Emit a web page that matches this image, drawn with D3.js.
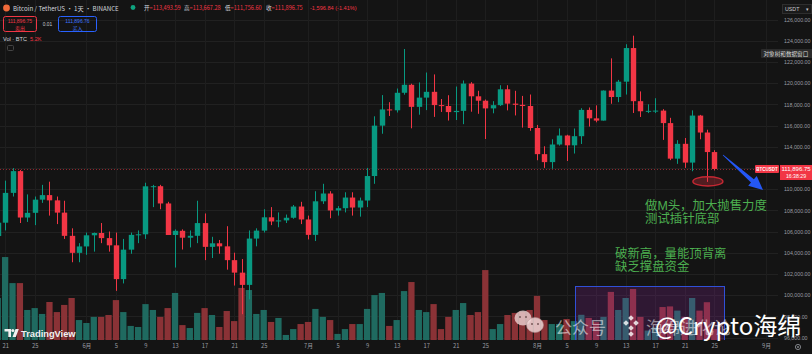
<!DOCTYPE html>
<html><head><meta charset="utf-8">
<script src="https://cdn.jsdelivr.net/npm/d3@7"></script>
<style>
html,body{margin:0;padding:0;background:#141414;overflow:hidden;}
svg{display:block;}
text{font-family:"Liberation Sans","Noto Sans","Noto Sans CJK SC",sans-serif;}
.cjk{font-family:"Noto Sans CJK SC","Noto Sans",sans-serif;}
</style></head><body>
<svg id="c" width="812" height="354"></svg>
<script>
const dates = ["2025-05-20","2025-05-21","2025-05-22","2025-05-23","2025-05-24","2025-05-25","2025-05-26","2025-05-27","2025-05-28","2025-05-29","2025-05-30","2025-05-31",
"2025-06-01","2025-06-02","2025-06-03","2025-06-04","2025-06-05","2025-06-06","2025-06-07","2025-06-08","2025-06-09","2025-06-10","2025-06-11","2025-06-12","2025-06-13","2025-06-14","2025-06-15","2025-06-16","2025-06-17","2025-06-18","2025-06-19","2025-06-20","2025-06-21","2025-06-22","2025-06-23","2025-06-24","2025-06-25","2025-06-26","2025-06-27","2025-06-28","2025-06-29","2025-06-30",
"2025-07-01","2025-07-02","2025-07-03","2025-07-04","2025-07-05","2025-07-06","2025-07-07","2025-07-08","2025-07-09","2025-07-10","2025-07-11","2025-07-12","2025-07-13","2025-07-14","2025-07-15","2025-07-16","2025-07-17","2025-07-18","2025-07-19","2025-07-20","2025-07-21","2025-07-22","2025-07-23","2025-07-24","2025-07-25","2025-07-26","2025-07-27","2025-07-28","2025-07-29","2025-07-30","2025-07-31",
"2025-08-01","2025-08-02","2025-08-03","2025-08-04","2025-08-05","2025-08-06","2025-08-07","2025-08-08","2025-08-09","2025-08-10","2025-08-11","2025-08-12","2025-08-13","2025-08-14","2025-08-15","2025-08-16","2025-08-17","2025-08-18","2025-08-19","2025-08-20","2025-08-21","2025-08-22","2025-08-23","2025-08-24","2025-08-25"];
const open = [105573,106830,109643,111696,107318,107761,109004,109434,108938,107781,105589,103985,
104591,105642,105858,105376,104696,101508,104288,105681,105734,110263,110274,108645,105671,106066,105414,105594,106794,104551,104886,104600,103298,102120,100963,105333,106083,107340,106947,107047,107296,108356,
107135,105681,108849,109584,107984,108198,109204,108262,108922,111233,115987,117516,117435,119087,119841,117758,118630,119177,117924,117840,117265,117380,119954,118756,118340,117614,117919,119416,118062,117950,117840,
115764,113297,112546,114208,115055,114129,114992,117472,116675,116463,119295,118687,120134,123306,118295,117342,117380,117405,116227,112872,114271,112500,116937,115338,113494];
const high = [107320,110797,111980,111800,109500,109300,110400,110700,109300,108900,106300,104900,
105900,105900,106800,106000,105900,105300,105900,106100,110600,110400,110400,108800,106200,106200,106100,108900,107700,105500,105200,106500,104000,103400,106100,106300,108100,108300,107800,107600,108500,108800,
107500,109800,110500,109800,108400,109700,109700,109200,111999,116868,118869,118200,119488,123218,119940,120063,120998,120820,118499,118856,119676,120247,120090,119273,118451,118297,119800,119800,119273,118792,118922,
116052,114040,114700,115720,115127,115716,117630,117700,117900,119311,122335,120300,123668,124474,119216,117999,118575,117543,116725,114616,114821,117429,117000,115600,113667];
const low = [104200,106100,109300,106800,106900,106600,108700,107500,106700,105300,103100,103100,
103800,104100,104900,104100,100400,101100,103900,104900,105300,108300,108100,105700,102600,104300,104500,104900,103300,103500,103900,102400,100900,98200,99600,104600,105900,106600,106400,106800,107200,106700,
105250,105100,108600,107250,107500,107800,107500,107400,108300,110500,115222,116900,117224,118905,115736,117017,117453,116812,117277,116467,116516,116128,117301,117103,114723,117151,117841,117427,116950,115800,115500,
112722,112000,111920,114100,112650,113355,114259,115900,116300,116460,118050,118200,118920,117180,116803,117172,117172,114640,112733,112380,112000,111684,114700,110680,111757];
const close = [106830,109643,111696,107318,107761,109004,109434,108938,107781,105589,103985,104591,
105642,105858,105376,104696,101508,104288,105681,105734,110263,110274,108645,105671,106066,105414,105594,106794,104551,104886,104600,103298,102120,100963,105333,106083,107340,106947,107047,107296,108356,107135,
105681,108849,109584,107984,108198,109204,108262,108922,111233,115987,117516,117435,119087,119841,117758,118630,119177,117924,117840,117265,117380,119954,118756,118340,117614,117919,119416,118062,117950,117840,115764,
113297,112546,114208,115055,114129,114992,117472,116675,116463,119295,118687,120134,123306,118295,117342,117380,117405,116227,112872,114271,112500,116937,115338,113494,111897];
const volume = [20.0,39.5,27.1,27.1,14.3,15.2,12.4,18.1,13.3,16.7,20.0,9.5,
8.1,11.0,11.0,11.9,19.0,13.3,6.7,6.2,17.1,14.3,11.0,15.2,22.4,7.1,5.7,12.9,15.2,11.9,6.2,13.8,9.0,24.8,23.8,12.4,14.3,8.6,10.5,2.4,5.2,7.6,
8.6,14.8,11.0,9.5,2.9,5.2,7.6,7.6,14.8,21.4,22.4,6.7,9.5,23.3,27.6,14.3,13.3,17.1,5.2,11.0,14.3,17.6,11.9,13.3,33.3,5.2,7.6,11.9,12.9,13.3,14.3,
21.0,9.5,7.6,7.6,10.0,9.0,12.0,10.5,8.5,11.0,22.9,14.3,20.0,24.3,11.0,4.5,6.0,15.7,16.0,14.0,11.0,20.0,14.0,18.0,5.2];
const priceTicks = [96000,98000,100000,102000,104000,106000,108000,110000,112000,114000,116000,118000,120000,122000,124000,126000];
const tickDates = ["2025-05-21","2025-05-25","2025-06-01","2025-06-05","2025-06-09","2025-06-13","2025-06-17","2025-06-21","2025-06-25","2025-07-01","2025-07-05","2025-07-09","2025-07-13","2025-07-17","2025-07-21","2025-07-25","2025-08-01","2025-08-05","2025-08-09","2025-08-13","2025-08-17","2025-08-21","2025-08-25","2025-09-01"];
const tickLabels = ["21","25","6月","5","9","13","17","21","25","7月","5","9","13","17","21","25","8月","5","9","13","17","21","25","9月"];
const lastPrice = 111896.75;

const UP="#089981", DN="#f23645", VUP="#1f6a60", VDN="#8a3236";
const svg=d3.select("#c");
const W=812,H=354,plotR=778,volBase=340;
svg.append("rect").attr("width",W).attr("height",H).attr("fill","#141414");

const parse=d3.utcParse("%Y-%m-%d");
const x=d3.scaleUtc().domain([parse("2025-08-01"),parse("2025-09-01")]).range([537,766]);
const y=d3.scaleLinear().domain([96000,126000]).range([337.5,19.5]);
const yv=d3.scaleLinear().domain([0,40]).range([volBase,256]);
const data=dates.map((d,i)=>({date:parse(d),o:open[i],h:high[i],l:low[i],c:close[i],v:volume[i]}));
const step=x(parse("2025-08-02"))-x(parse("2025-08-01"));

svg.append("clipPath").attr("id","plot").append("rect").attr("x",0).attr("y",0).attr("width",plotR).attr("height",volBase);

// grid
const grid=svg.append("g").attr("clip-path","url(#plot)");
grid.selectAll("line.h").data(priceTicks).join("line")
  .attr("x1",0).attr("x2",plotR).attr("y1",d=>Math.round(y(d))+0.5).attr("y2",d=>Math.round(y(d))+0.5)
  .attr("stroke","#212121").attr("stroke-width",1);
grid.selectAll("line.v").data(tickDates).join("line")
  .attr("y1",0).attr("y2",volBase).attr("x1",d=>Math.round(x(parse(d)))+0.5).attr("x2",d=>Math.round(x(parse(d)))+0.5)
  .attr("stroke","#1e1e1e").attr("stroke-width",1);

// volume
const plot=svg.append("g").attr("clip-path","url(#plot)");
const bw=step-1.1;
plot.append("g").selectAll("rect").data(data).join("rect")
  .attr("x",d=>x(d.date)-bw/2).attr("width",bw)
  .attr("y",d=>yv(d.v)).attr("height",d=>volBase-yv(d.v))
  .attr("fill",d=>d.c>=d.o?VUP:VDN);

// drawing rectangle (purple box)
plot.append("rect").attr("x",575.5).attr("y",286.5).attr("width",149).attr("height",56)
  .attr("fill","rgba(156,39,176,0.2)").attr("stroke","#3050d8").attr("stroke-width",1);

// last price line
plot.append("line").attr("x1",0).attr("x2",plotR).attr("y1",Math.round(y(lastPrice))+0.5).attr("y2",Math.round(y(lastPrice))+0.5)
  .attr("stroke",DN).attr("stroke-opacity",0.55).attr("stroke-dasharray","1,2");

// candles
const cw=5.4;
const cg=plot.append("g").selectAll("g").data(data).join("g");
cg.append("line").attr("x1",d=>Math.round(x(d.date))+0.5).attr("x2",d=>Math.round(x(d.date))+0.5)
  .attr("y1",d=>y(d.h)).attr("y2",d=>y(d.l)).attr("stroke",d=>d.c>=d.o?UP:DN).attr("stroke-width",1);
cg.append("rect").attr("x",d=>Math.round(x(d.date))+0.5-cw/2).attr("width",cw)
  .attr("y",d=>y(Math.max(d.o,d.c))).attr("height",d=>Math.max(1,Math.abs(y(d.o)-y(d.c))))
  .attr("fill",d=>d.c>=d.o?UP:DN);

// ellipse annotation around Aug 24 wick
const eD=data[data.length-2];
plot.append("ellipse").attr("cx",x(eD.date)+1).attr("cy",y(eD.l)-0.5).attr("rx",15).attr("ry",4.6)
  .attr("fill","rgba(242,54,69,0.28)").attr("stroke","#c62833").attr("stroke-width",1.4);

// blue arrow
(function(){
  const sx=723,sy=155,tx=763,ty=190;
  const dx=tx-sx,dy=ty-sy,L=Math.hypot(dx,dy),ux=dx/L,uy=dy/L,nx=-uy,ny=ux;
  const hl=14,hw=6.5,bx=tx-hl*ux,by=ty-hl*uy;
  const pts=[[sx+nx*0.4,sy+ny*0.4],[bx+nx*2.2,by+ny*2.2],[bx+nx*hw,by+ny*hw],[tx,ty],[bx-nx*hw,by-ny*hw],[bx-nx*2.2,by-ny*2.2],[sx-nx*0.4,sy-ny*0.4]];
  svg.append("polygon").attr("points",pts.map(p=>p.join(",")).join(" ")).attr("fill","#2457f5");
})();

// annotations
const ann=svg.append("g").attr("class","cjk").attr("fill","#4caf50").attr("font-size",12.4);
ann.append("text").attr("x",645).attr("y",210).text("做M头，加大抛售力度");
ann.append("text").attr("x",645).attr("y",222.5).text("测试插针底部");
ann.append("text").attr("x",615).attr("y",258).text("破新高，量能顶背离");
ann.append("text").attr("x",615).attr("y",270.5).text("缺乏撑盘资金");

// right price axis (labels hidden under the last-price box are not shown, as in the reference)
const ya=d3.axisRight(y).tickValues(priceTicks).tickFormat(d3.format(",.2f")).tickSize(0).tickPadding(6);
const yg=svg.append("g").attr("transform",`translate(${plotR},0)`).call(ya);
yg.select(".domain").remove();
yg.selectAll("text").attr("fill","#9a9ca3").attr("font-size",5.3).attr("x",6);
yg.selectAll(".tick").filter(d=>Math.abs(y(d)-y(lastPrice))<10).remove();

// bottom date axis
const xa=d3.axisBottom(x).tickValues(tickDates.map(parse)).tickFormat((d,i)=>tickLabels[i]).tickSize(0).tickPadding(4);
const xg=svg.append("g").attr("transform",`translate(0,${volBase})`).call(xa);
xg.select(".domain").remove();
xg.selectAll("text").attr("fill","#9a9ca3").attr("font-size",5.8).attr("class","cjk");
// gear icon
svg.append("circle").attr("cx",798).attr("cy",347).attr("r",2.6).attr("fill","none").attr("stroke","#8a8d93").attr("stroke-width",0.9);
svg.append("circle").attr("cx",798).attr("cy",347).attr("r",0.9).attr("fill","#8a8d93");

// price labels
const ly=Math.round(y(lastPrice));
svg.append("rect").attr("x",755).attr("y",ly-4).attr("width",24).attr("height",8).attr("fill",DN).attr("rx",1);
svg.append("text").attr("x",767).attr("y",ly+1.8).attr("text-anchor","middle").attr("font-size",4.5).attr("font-weight","bold").attr("fill","#fff").text("BTCUSDT");
svg.append("rect").attr("x",780).attr("y",ly-4).attr("width",32).attr("height",15).attr("fill",DN);
svg.append("text").attr("x",796).attr("y",ly+2.2).attr("text-anchor","middle").attr("font-size",6).attr("fill","#fff").text(d3.format(",.2f")(lastPrice));
svg.append("text").attr("x",796).attr("y",ly+9.3).attr("text-anchor","middle").attr("font-size",5.2).attr("fill","#fff").text("16:38:29");

// USDT box
svg.append("rect").attr("x",782.5).attr("y",4.5).attr("width",29).attr("height",9).attr("fill","#1a1a1a").attr("stroke","#2e2e2e");
svg.append("text").attr("x",785).attr("y",11).attr("font-size",5.3).attr("fill","#c9cbd0").text("USDT");
svg.append("text").attr("x",806).attr("y",11).attr("font-size",5).attr("fill","#c9cbd0").text("▾");
// tooltip
svg.append("rect").attr("x",761).attr("y",49).attr("width",52).attr("height",9).attr("fill","#2b2b2b").attr("rx",1);
svg.append("text").attr("class","cjk").attr("x",763.5).attr("y",56).attr("font-size",5.6).attr("fill","#d8d8d8").text("对象树和数据窗口");

// header
svg.append("circle").attr("cx",6.5).attr("cy",8).attr("r",3.4).attr("fill","#f06a3a");
svg.append("text").attr("class","cjk").attr("x",13).attr("y",10.5).attr("font-size",6.2).attr("fill","#d1d4dc").text("Bitcoin / TetherUS · 1天 · BINANCE");
svg.append("circle").attr("cx",133).attr("cy",7.5).attr("r",2.4).attr("fill","#0fa37f");
const ohlcLab=["开","高","低","收"], ohlcVal=["=113,493.59","=113,667.28","=111,756.60","=111,896.75"], ohlcX=[144,184,225,266];
ohlcLab.forEach((l,i)=>{
  const t=svg.append("text").attr("class","cjk").attr("x",ohlcX[i]).attr("y",10).attr("font-size",5.6);
  t.append("tspan").attr("fill","#d1d4dc").text(l);
  t.append("tspan").attr("fill",DN).text(ohlcVal[i]);
});
svg.append("text").attr("x",310).attr("y",10).attr("font-size",5.6).attr("fill",DN).text("-1,596.84 (-1.41%)");
// buy/sell
svg.append("rect").attr("x",3.5).attr("y",16.5).attr("width",33).attr("height",15).attr("rx",2).attr("fill","none").attr("stroke",DN);
svg.append("text").attr("x",20).attr("y",22.8).attr("text-anchor","middle").attr("font-size",5).attr("fill",DN).text("111,896.75");
svg.append("text").attr("class","cjk").attr("x",20).attr("y",29.5).attr("text-anchor","middle").attr("font-size",5).attr("fill",DN).text("卖出");
svg.append("text").attr("x",47.5).attr("y",25.5).attr("text-anchor","middle").attr("font-size",4.8).attr("fill","#c9cbd0").text("0.01");
svg.append("rect").attr("x",58.5).attr("y",16.5).attr("width",38).attr("height",15).attr("rx",2).attr("fill","none").attr("stroke","#2962ff");
svg.append("text").attr("x",77.5).attr("y",22.8).attr("text-anchor","middle").attr("font-size",5).attr("fill","#3d74ff").text("111,896.76");
svg.append("text").attr("class","cjk").attr("x",77.5).attr("y",29.5).attr("text-anchor","middle").attr("font-size",5).attr("fill","#3d74ff").text("买入");
svg.append("text").attr("x",3).attr("y",40.5).attr("font-size",5.6).attr("fill","#d1d4dc").text("Vol · BTC");
svg.append("text").attr("x",30).attr("y",40.5).attr("font-size",5.6).attr("fill",DN).text("5.2K");
svg.append("rect").attr("x",7.5).attr("y",45.5).attr("width",6).attr("height",5).attr("rx",1).attr("fill","none").attr("stroke","#444");

// TradingView logo
svg.append("path").attr("d","M4.5,329 H11 V337 H8.3 V331.5 H4.5 Z").attr("fill","#f0f0f0");
svg.append("circle").attr("cx",12.8).attr("cy",330.6).attr("r",1.5).attr("fill","#f0f0f0");
svg.append("path").attr("d","M15.5,329 H18.8 L15.8,337 H12.5 Z").attr("fill","#f0f0f0");
svg.append("text").attr("x",21).attr("y",337).attr("font-size",9.3).attr("font-weight","bold").attr("fill","#f0f0f0").text("TradingView");

// watermark
const wm=svg.append("g");
wm.append("ellipse").attr("cx",523).attr("cy",318).attr("rx",8.5).attr("ry",7.5).attr("fill","#e6c9c9").attr("opacity",0.85);
wm.append("ellipse").attr("cx",535).attr("cy",325).attr("rx",8.5).attr("ry",7.5).attr("fill","#f0d6d6").attr("opacity",0.85).attr("stroke","#b79a9a").attr("stroke-width",0.6);
[[520,317],[526,317],[532,324],[538,324]].forEach(p=>wm.append("circle").attr("cx",p[0]).attr("cy",p[1]).attr("r",1).attr("fill","#7a5a5a"));
wm.append("text").attr("class","cjk").attr("x",555).attr("y",334).attr("font-size",17).attr("fill","rgba(255,255,255,0.55)").text("公众号");
const dg=wm.append("g").attr("transform","translate(631,326)").attr("fill","rgba(255,255,255,0.8)");
[[0,-8],[-5,-3],[5,-3],[0,2],[0,8]].forEach(p=>dg.append("rect").attr("x",p[0]-2).attr("y",p[1]-2).attr("width",4).attr("height",4).attr("transform",`rotate(45 ${p[0]} ${p[1]})`));
wm.append("text").attr("class","cjk").attr("x",646).attr("y",334).attr("font-size",17).attr("fill","rgba(255,255,255,0.5)").text("海绵进化论");
wm.append("text").attr("class","cjk").attr("x",655).attr("y",335).attr("font-size",24).attr("fill","#ffffff").text("@Crypto海绵");
</script>
</body></html>
